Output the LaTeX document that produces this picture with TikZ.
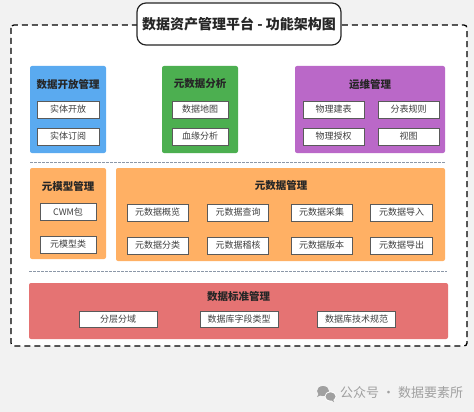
\documentclass[tikz,border=0pt]{standalone}
\usepackage{fontspec}
\setmainfont{Noto Sans CJK SC}
\usetikzlibrary{positioning}
\definecolor{bgc}{HTML}{F2F2F2}
\definecolor{cblue}{HTML}{5AAAF0}
\definecolor{cgreen}{HTML}{4CAF50}
\definecolor{cpurple}{HTML}{BA68C8}
\definecolor{corange}{HTML}{FFB064}
\definecolor{cred}{HTML}{E57373}
\definecolor{itemline}{HTML}{5A5A5A}
\definecolor{ttext}{HTML}{262626}
\definecolor{sepline}{HTML}{8C98A8}
\definecolor{wmark}{HTML}{A0A0A0}
\tikzset{
  panel/.style={rounded corners=2pt, draw=none},
  ptitle/.style={font=\bfseries\fontsize{10.5}{12}\selectfont, text=ttext, inner sep=0},
  item/.style={draw=itemline, line width=0.8pt, fill=white, inner sep=0,
    minimum height=17pt, font=\fontsize{9}{10}\selectfont, text=black!75},
  sep/.style={draw=sepline, line width=0.6pt, dash pattern=on 2.5pt off 1.5pt},
}
\begin{document}
\begin{tikzpicture}[x=1pt,y=-1pt]
\useasboundingbox (0,0) rectangle (474,412);
\fill[bgc] (0,0) rectangle (474,412);
% outer dashed frame
\draw[fill=white, line width=1.3pt, dash pattern=on 6pt off 4pt, rounded corners=3pt]
  (11,25) rectangle (467,346);
% title
\node[draw=black!85, line width=1.2pt, fill=white, rounded corners=9pt,
  minimum width=204pt, minimum height=42pt, inner sep=0,
  font=\bfseries\fontsize{14}{16}\selectfont, text=ttext] (title) at (239,24) {数据资产管理平台 - 功能架构图};

% row 1 panels
\fill[panel, cblue] (30,66) rectangle (106,153);
\node[ptitle] (t1) at (68,84) {数据开放管理};
\node[item, minimum width=62pt] (a1) at (68,109.5) {实体开放};
\node[item, minimum width=62pt] (a2) at (68,136.5) {实体订阅};

\fill[panel, cgreen] (162,66) rectangle (238,153);
\node[ptitle] (t2) at (200,84) {元数据分析};
\node[item, minimum width=56pt] (b1) at (200,109.5) {数据地图};
\node[item, minimum width=56pt] (b2) at (200,136.5) {血缘分析};

\fill[panel, cpurple] (295,66) rectangle (445,153);
\node[ptitle] (t3) at (370,85) {运维管理};
\node[item, minimum width=61pt] (c1) at (333.5,109.5) {物理建表};
\node[item, minimum width=61pt] (c2) at (408.5,109.5) {分表规则};
\node[item, minimum width=61pt] (c3) at (333.5,136.5) {物理授权};
\node[item, minimum width=61pt] (c4) at (408.5,136.5) {视图};

% separator 1
\coordinate (s1a) at (30,162);
\coordinate (s1b) at (445,162);
\draw[sep] (s1a) -- (s1b);

% row 2
\fill[panel, corange] (30,168) rectangle (106,259);
\node[ptitle] (t4) at (68,186) {元模型管理};
\node[item, minimum width=56pt] (d1) at (68,212) {CWM包};
\node[item, minimum width=56pt] (d2) at (68,244.5) {元模型类};

\fill[panel, corange] (116,168) rectangle (445,261);
\node[ptitle] (t5) at (281,185) {元数据管理};
\node[item, minimum width=61pt] (e1) at (157.5,212.5) {元数据概览};
\node[item, minimum width=61pt] (e2) at (238,212.5) {元数据查询};
\node[item, minimum width=61pt] (e3) at (321.5,212.5) {元数据采集};
\node[item, minimum width=62pt] (e4) at (401.5,212.5) {元数据导入};
\node[item, minimum width=61pt] (e5) at (157.5,245.5) {元数据分类};
\node[item, minimum width=61pt] (e6) at (238,245.5) {元数据稽核};
\node[item, minimum width=61pt] (e7) at (321.5,245.5) {元数据版本};
\node[item, minimum width=62pt] (e8) at (401.5,245.5) {元数据导出};

% separator 2
\coordinate (s2a) at (29,271);
\coordinate (s2b) at (447,271);
\draw[sep] (s2a) -- (s2b);

% row 3
\fill[panel, cred] (29,283) rectangle (448,339);
\node[ptitle] (t6) at (238.5,296) {数据标准管理};
\node[item, minimum width=78pt, minimum height=16pt] (f1) at (118,319) {分层分域};
\node[item, minimum width=78pt, minimum height=16pt] (f2) at (239,319) {数据库字段类型};
\node[item, minimum width=78pt, minimum height=16pt] (f3) at (356.5,319) {数据库技术规范};

% watermark
\fill[wmark] (323,391) ellipse (6pt and 5pt);
\fill[wmark] (317,397) -- (319,393) -- (321,395) -- cycle;
\fill[white] (330.5,396.5) ellipse (6pt and 5pt);
\fill[wmark] (330.5,396.5) ellipse (5pt and 4.2pt);
\fill[wmark] (334,402) -- (333,399) -- (331,400) -- cycle;
\node[font=\fontsize{13}{15}\selectfont, text=wmark, anchor=west, inner sep=0] (wm) at (340,393) {公众号 · 数据要素所};
\end{tikzpicture}
\end{document}
